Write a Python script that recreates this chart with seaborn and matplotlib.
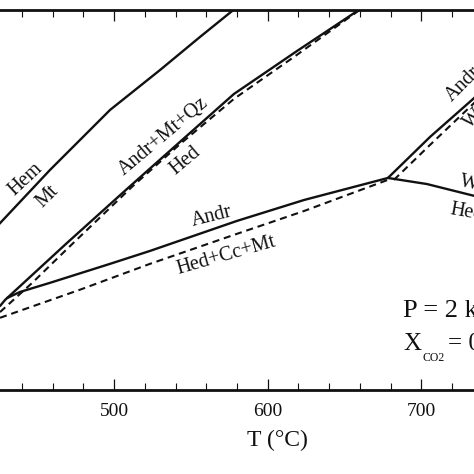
import matplotlib
matplotlib.use("Agg")
import matplotlib.pyplot as plt
import seaborn as sns
from matplotlib.ticker import MultipleLocator

sns.set_style("ticks")
plt.rcParams['font.family'] = ['Liberation Serif', 'DejaVu Serif']
plt.rcParams['mathtext.fontset'] = 'stix'

# ---- data (T in deg C, y in arbitrary relative units 0-100) ----
hem_mt_T = [419.3, 425.8, 458.3, 497.4, 529.9, 555.9, 576.7, 581.9]
hem_mt_y = [41.1, 43.9, 57.9, 73.7, 84.2, 92.9, 99.7, 101.3]

amq_T = [425.8, 429.1, 469.4, 508.4, 542.9, 578.0, 619.0, 658.1, 663.3]
amq_y = [22.1, 23.7, 38.7, 52.9, 65.3, 77.9, 89.2, 99.7, 101.3]

amq_d_T = [425.8, 447.3, 469.4, 512.3, 542.9, 578.0, 619.0, 658.7, 663.3]
amq_d_y = [20.5, 28.4, 37.1, 53.7, 64.7, 76.6, 88.2, 99.7, 101.3]

andr_T = [430.4, 438.8, 458.3, 497.4, 523.4, 580.0, 623.6, 678.2]
andr_y = [24.2, 25.8, 28.2, 33.2, 36.6, 44.5, 50.0, 55.8]

hcm_T = [425.8, 477.9, 523.4, 580.0, 623.6, 678.2]
hcm_y = [19.0, 26.4, 33.2, 41.1, 47.1, 55.3]

andr_wo_T = [678.2, 705.6, 734.2, 739.4]
andr_wo_y = [55.8, 66.6, 76.8, 79.0]

andr_wo_d_T = [682.1, 705.6, 734.2, 739.4]
andr_wo_d_y = [55.3, 64.5, 75.5, 77.4]

wo_hed_T = [678.2, 703.6, 734.2, 739.4]
wo_hed_y = [55.8, 54.2, 51.1, 50.5]

xticks_major = [500, 600, 700]

W, H = 474, 474
fig = plt.figure(figsize=(W / 100, H / 100), dpi=100)
fig.patch.set_facecolor('white')
ax = fig.add_axes([0, 1 - 390 / 474, 1, 380 / 474])
ax.set_xlim(425.8, 734.2)
ax.set_ylim(0, 100)

ink = '#111111'
solid = dict(color=ink, lw=1.7, sort=False, estimator=None)
dashed = dict(color=ink, lw=1.5, sort=False, estimator=None,
              linestyle=(0, (3.4, 2.3)))

sns.lineplot(x=hem_mt_T, y=hem_mt_y, ax=ax, **solid)
sns.lineplot(x=amq_T, y=amq_y, ax=ax, **solid)
sns.lineplot(x=amq_d_T, y=amq_d_y, ax=ax, **dashed)
sns.lineplot(x=andr_T, y=andr_y, ax=ax, **solid)
sns.lineplot(x=hcm_T, y=hcm_y, ax=ax, **dashed)
sns.lineplot(x=andr_wo_T, y=andr_wo_y, ax=ax, **solid)
sns.lineplot(x=andr_wo_d_T, y=andr_wo_d_y, ax=ax, **dashed)
sns.lineplot(x=wo_hed_T, y=wo_hed_y, ax=ax, **solid)

# spines and ticks
for s in ['left', 'right']:
    ax.spines[s].set_visible(False)
for s in ['top', 'bottom']:
    ax.spines[s].set_linewidth(2.0)
    ax.spines[s].set_color(ink)
ax.set_yticks([])
ax.set_xticks(xticks_major)
ax.xaxis.set_minor_locator(MultipleLocator(20))
ax.tick_params(axis='x', which='major', direction='in', length=8, width=0.9,
               top=True, bottom=True, labelsize=14, pad=9, colors=ink)
ax.tick_params(axis='x', which='minor', direction='in', length=5, width=0.8,
               top=True, bottom=True, colors=ink)
ax.set_xlabel('T (°C)', fontsize=17, color=ink)
ax.xaxis.set_label_coords(277 / 474, -0.105)

fs = 14.5
ax.text(442.7, 55.5, 'Hem', rotation=43, fontsize=fs, ha='center', va='center', color=ink)
ax.text(456.4, 50.8, 'Mt', rotation=45, fontsize=fs, ha='center', va='center', color=ink)
ax.text(531.9, 66.8, 'Andr+Mt+Qz', rotation=40, fontsize=fs, ha='center', va='center', color=ink)
ax.text(546.2, 60.3, 'Hed', rotation=40, fontsize=fs, ha='center', va='center', color=ink)
ax.text(563.7, 45.6, 'Andr', rotation=14, fontsize=fs, ha='center', va='center', color=ink)
ax.text(572.8, 35.3, 'Hed+Cc+Mt', rotation=16, fontsize=fs, ha='center', va='center', color=ink)
ax.text(719.5, 75.8, 'Andr', rotation=45, fontsize=fs, ha='left', va='baseline',
        rotation_mode='anchor', color=ink)
ax.text(731.6, 68.8, 'Wo', rotation=45, fontsize=fs, ha='left', va='baseline',
        rotation_mode='anchor', color=ink)
ax.text(724.4, 53.6, 'Wo', rotation=-12, fontsize=fs, ha='left', va='baseline',
        rotation_mode='anchor', color=ink)
ax.text(717.9, 46.3, 'Hed', rotation=-10, fontsize=fs, ha='left', va='baseline',
        rotation_mode='anchor', color=ink)
ax.text(688.0, 19.2, 'P = 2 kbar', fontsize=19, ha='left', va='baseline', color=ink)
ax.text(688.0, 10.5, 'X', fontsize=18, ha='left', va='baseline', color=ink)
ax.text(700.4, 7.6, 'CO2', fontsize=8.5, ha='left', va='baseline', color=ink)
ax.text(717.3, 10.5, '= 0.1', fontsize=18, ha='left', va='baseline', color=ink)

fig.savefig('out.png', dpi=100, facecolor='white')
